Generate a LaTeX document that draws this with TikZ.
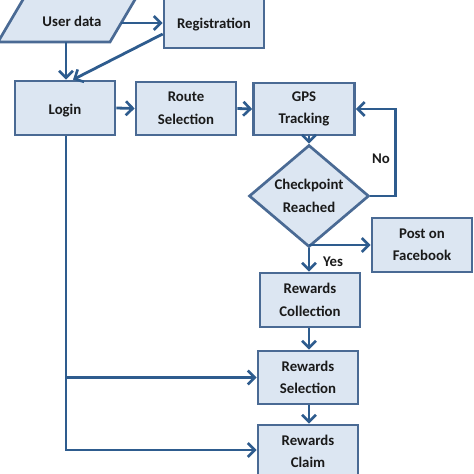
\documentclass[tikz,border=0pt]{standalone}
\usepackage{fontspec}
\setmainfont{Carlito}
\usetikzlibrary{shapes.geometric,arrows.meta,calc}
\definecolor{boxfill}{HTML}{DCE6F2}
\definecolor{boxline}{HTML}{4A6A94}
\definecolor{arrowc}{HTML}{2E5C8E}
\definecolor{txt}{HTML}{1A1A1A}
\newcommand{\lowertext}[2]{\raisebox{-#1}[\height][\depth]{#2}}
\begin{document}
\begin{tikzpicture}[x=1pt,y=-1pt,
  box/.style={draw=boxline,fill=boxfill,line width=2.7pt,minimum width=100pt,minimum height=53pt,inner sep=0pt,align=center,text=txt,font=\fontsize{14.8}{22.5}\selectfont\bfseries},
  dec/.style={diamond,draw=boxline,fill=boxfill,line width=2.7pt,minimum width=120pt,minimum height=82pt,inner sep=0pt,align=center,text=txt,font=\fontsize{14.8}{22.5}\selectfont\bfseries},
  lbl/.style={text=txt,font=\fontsize{14.8}{17}\selectfont\bfseries,inner sep=0pt},
  conn/.style={draw=arrowc,line width=2.8pt,-{Straight Barb[length=7pt,width=14pt,line width=2.6pt]}}]
\useasboundingbox (0,0) rectangle (474,474);
% User data parallelogram
\draw[draw=boxline,fill=boxfill,line width=2.7pt] (-2,42) -- (31,-14) -- (143,-14) -- (110,42) -- cycle;
\node[lbl] (ud) at (72,21) {User data};
\coordinate (udb) at (66,42);
\coordinate (udr) at (121,23);
\node[box,minimum height=52pt] (reg) at (214,22) {\lowertext{2.5pt}{Registration}};
\node[box,minimum height=54pt] (login) at (65,108) {\lowertext{3pt}{Login}};
\node[box,minimum height=53pt] (route) at (186,108.5) {Route\\Selection};
\node[box,minimum width=101pt,minimum height=52pt] (gps) at (304,109) {GPS\\Tracking};
\node[dec] (dia) at (309,196) {Checkpoint\\Reached};
\node[box,minimum height=54pt] (post) at (422,245) {Post on\\Facebook};
\node[box,minimum height=54pt] (rc) at (310,300) {Rewards\\Collection};
\node[box,minimum height=53pt] (rs) at (308,377.5) {Rewards\\Selection};
\node[box,minimum height=53pt] (rcl) at (308,451.5) {Rewards\\Claim};
% connectors
\draw[conn] (udr) -- (reg.west |- udr);
\draw[conn] (udb) -- (udb |- login.north);
\draw[conn] ([yshift=-12pt]reg.west) -- ([xshift=8pt]login.north);
\draw[conn] (login.east) -- (route.west);
\draw[conn] (route.east) -- (gps.west);
\draw[conn] (dia.north |- gps.south) -- (dia.north);
\draw[conn] (dia.east) -- ++(25,0) |- (gps.east);
\node[lbl] (no) at (381,159) {No};
\coordinate (br) at (dia.south |- post.west);
\draw[conn] (dia.south) -- (dia.south |- rc.north);
\draw[conn] (br) -- (post.west);
\node[lbl] (yes) at (333,262) {Yes};
\draw[conn] (dia.south |- rc.south) -- (dia.south |- rs.north);
\draw[conn] (dia.south |- rs.south) -- (dia.south |- rcl.north);
\draw[conn] ([xshift=1pt]login.south) |- (rs.west);
\draw[conn] ([xshift=1pt]login.south) |- ([yshift=1.5pt]rcl.west);
\end{tikzpicture}
\end{document}
